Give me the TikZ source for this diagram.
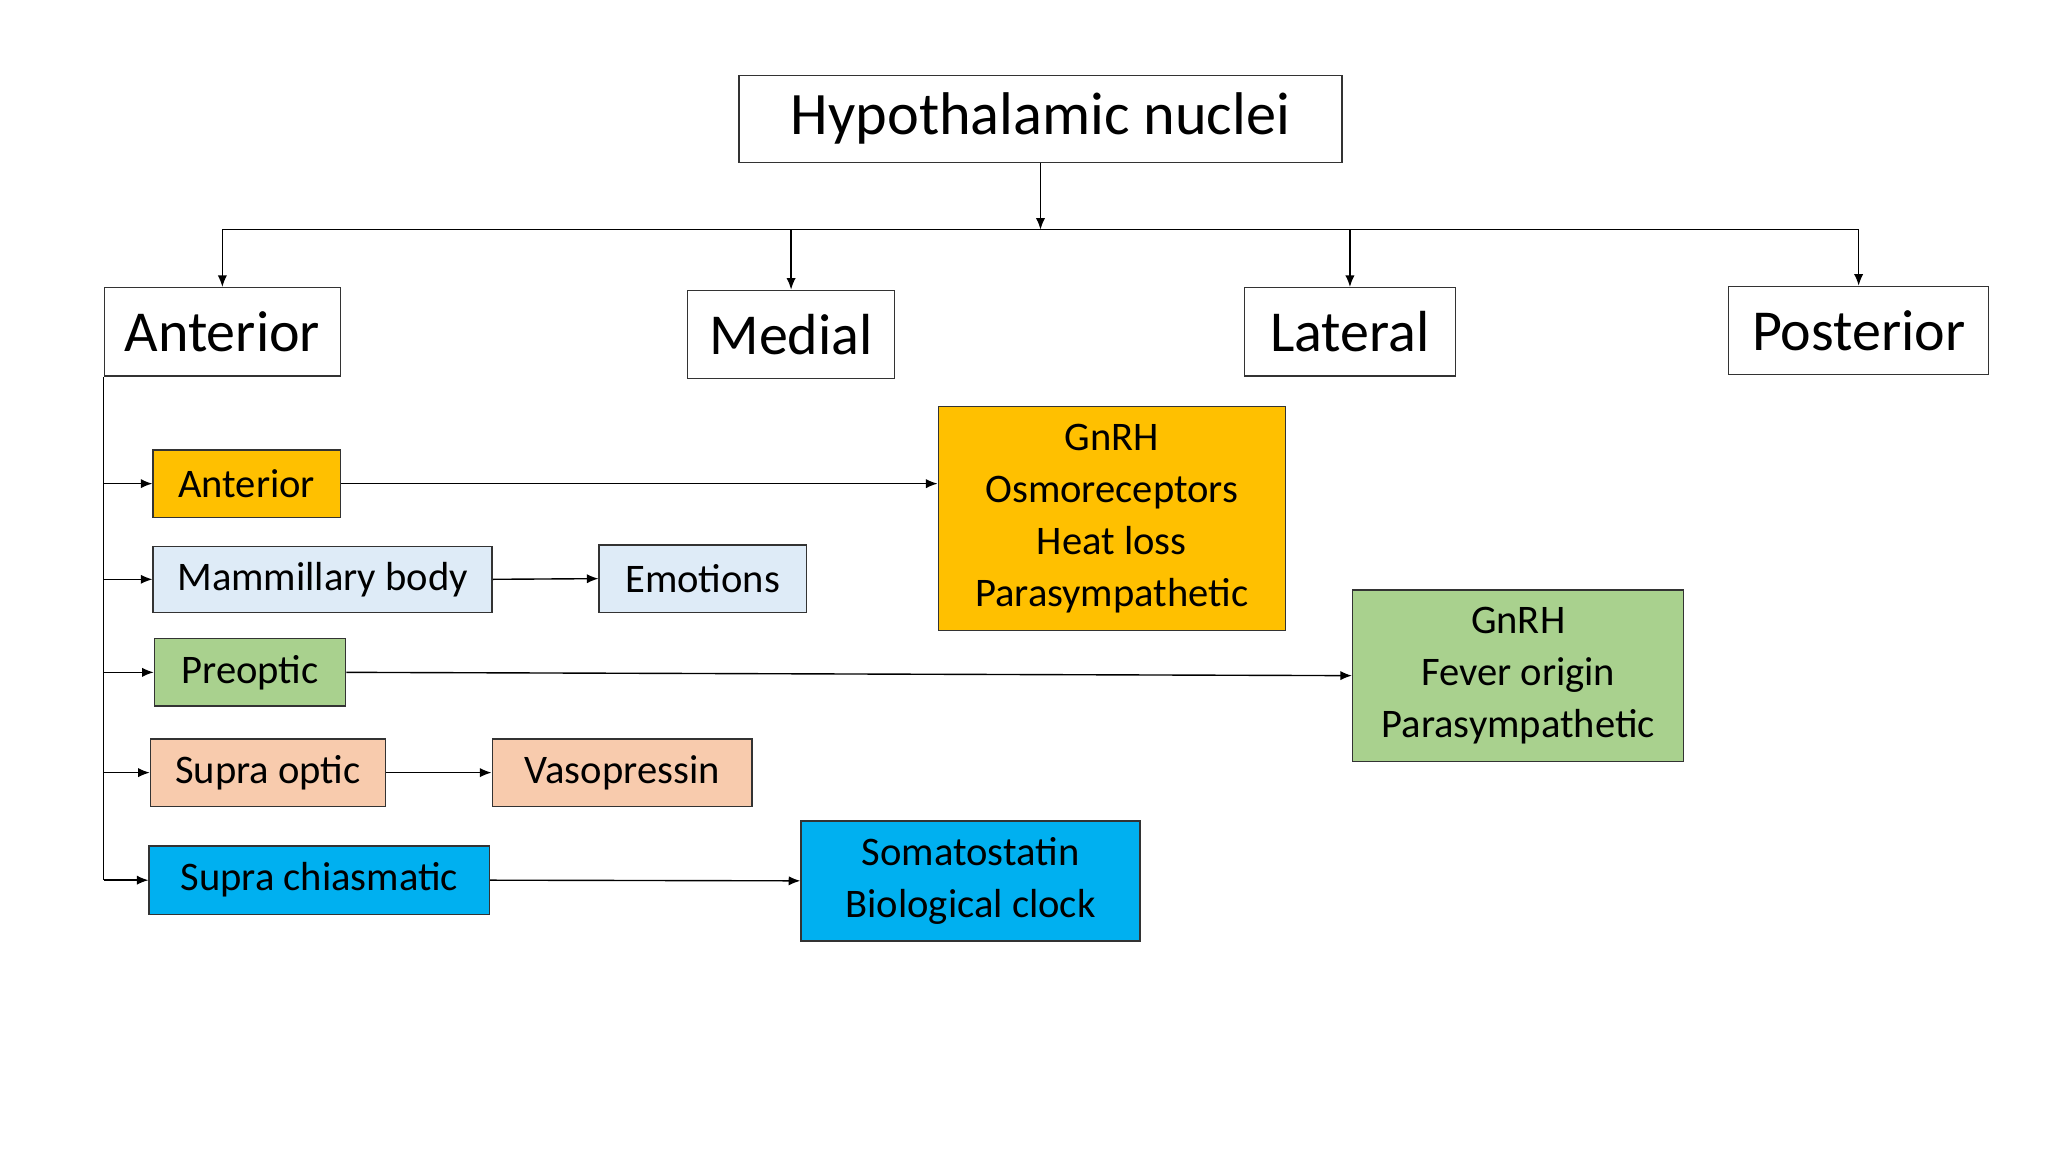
\documentclass[tikz,border=0pt]{standalone}
\usepackage{fontspec}
\setmainfont{Carlito}
\usetikzlibrary{arrows.meta}
\definecolor{cOr}{HTML}{FFC000}
\definecolor{cLb}{HTML}{DEEBF7}
\definecolor{cGr}{HTML}{A9D18E}
\definecolor{cPe}{HTML}{F8CBAD}
\definecolor{cBl}{HTML}{00B0F0}
\begin{document}
\begin{tikzpicture}[x=0.02cm,y=-0.02cm,
  box/.style={draw=black!80,line width=0.6pt,inner sep=0pt,align=center},
  big/.style={box,font=\fontsize{25}{30}\selectfont},
  sm/.style={box,font=\fontsize{17.5}{22.3}\selectfont},
  arr/.style={-{Latex[length=5pt,width=4pt]},line width=0.6pt},
  ln/.style={line width=0.6pt}]
\useasboundingbox[fill=white] (0,0) rectangle (1552,873);
\node[big,font=\fontsize{26}{30}\selectfont,minimum width=9.14cm,minimum height=1.32cm] (title) at (788.5,90) {Hypothalamic nuclei};
\node[big,minimum width=3.58cm,minimum height=1.34cm] (ant) at (168.5,251.5) {Anterior};
\node[big,minimum width=3.14cm,minimum height=1.34cm] (med) at (599.5,253.5) {Medial};
\node[big,minimum width=3.2cm,minimum height=1.34cm] (lat) at (1023,251.5) {Lateral};
\node[big,minimum width=3.94cm,minimum height=1.34cm] (post) at (1408.5,250.5) {Posterior};
\node[sm,fill=cOr,minimum width=2.84cm,minimum height=1.02cm] (a1) at (187,366.5) {Anterior};
\node[sm,fill=cLb,minimum width=5.14cm,minimum height=1.0cm] (mam) at (244.5,439) {Mammillary body};
\node[sm,fill=cLb,minimum width=3.14cm,minimum height=1.02cm] (emo) at (532.5,438.5) {Emotions};
\node[sm,fill=cGr,minimum width=2.9cm,minimum height=1.02cm] (pre) at (189.5,509.5) {Preoptic};
\node[sm,fill=cPe,minimum width=3.56cm,minimum height=1.02cm] (so) at (203,585.5) {Supra optic};
\node[sm,fill=cPe,minimum width=3.94cm,minimum height=1.02cm] (vas) at (471.5,585.5) {Vasopressin};
\node[sm,fill=cBl,minimum width=5.16cm,minimum height=1.04cm] (sc) at (242,667) {Supra chiasmatic};
\node[sm,fill=cBl,minimum width=5.14cm,minimum height=1.82cm] (som) at (735.5,667.5) {Somatostatin\\Biological clock};
\node[sm,fill=cOr,minimum width=5.26cm,minimum height=3.4cm] (gor) at (842.5,393) {GnRH\\Osmoreceptors\\Heat loss\\Parasympathetic};
\node[sm,fill=cGr,minimum width=5.02cm,minimum height=2.6cm] (ggr) at (1150.5,512) {GnRH\\Fever origin\\Parasympathetic};
\coordinate (j) at (788.5,174);
\coordinate (jl) at (168.5,174);
\coordinate (jr) at (1408.5,174);
\draw[arr] (title.south) -- (j);
\draw[ln] (jl) -- (jr);
\foreach \n in {ant,med,lat,post} \draw[arr] (\n.north|-j) -- (\n.north);
\draw[ln] (ant.south west) -- (ant.south west|-sc.west);
\foreach \n in {a1,mam,pre,so,sc} \draw[arr] (ant.south west|-\n.west) -- (\n.west);
\draw[arr] (a1.east) -- (a1.east-|gor.west);
\draw[arr] (mam.east) -- (emo.west);
\draw[arr] (pre.east) -- (ggr.west);
\draw[arr] (so.east) -- (vas.west);
\draw[arr] (sc.east) -- (som.west);
\end{tikzpicture}
\end{document}
